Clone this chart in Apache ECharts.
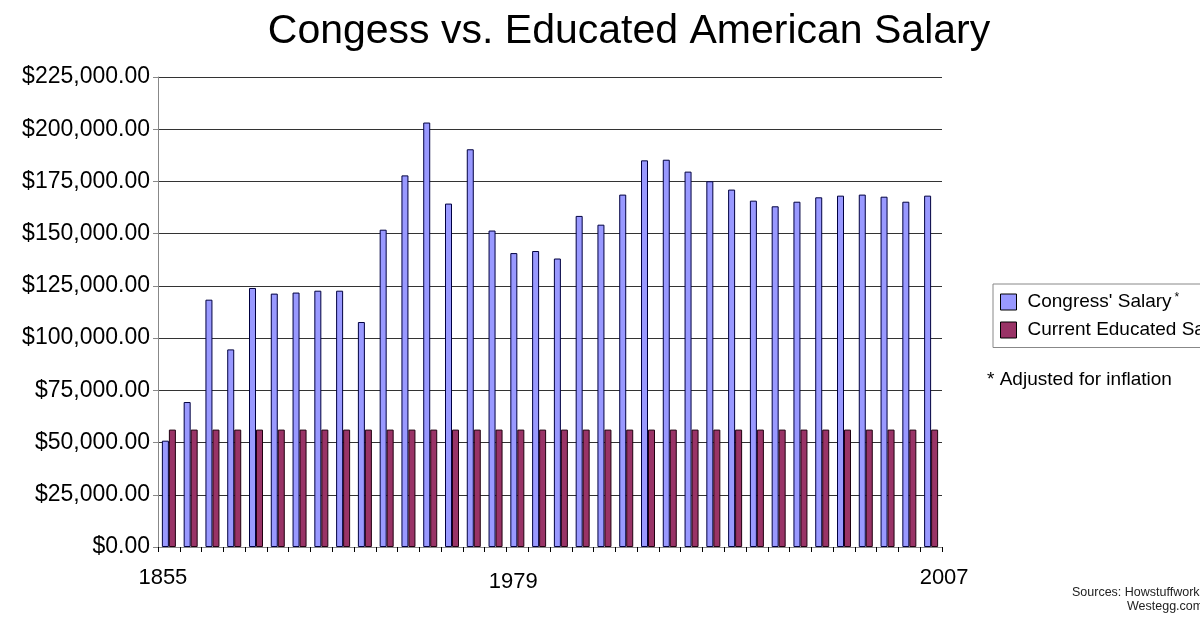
<!DOCTYPE html>
<html>
<head>
<meta charset="utf-8">
<script src="https://cdn.jsdelivr.net/npm/echarts@6/dist/echarts.min.js"></script>
<style>
html,body{margin:0;padding:0;background:#fff;}
#c{width:1200px;height:630px;}
</style>
</head>
<body>
<div id="c"></div>
<script>
// categories: 36 periods; only three are labelled in the reference
const categories = ['1855','c1','c2','c3','c4','c5','c6','c7','c8','c9','c10','c11','c12','c13','c14','c15','1979','c17','c18','c19','c20','c21','c22','c23','c24','c25','c26','c27','c28','c29','c30','c31','c32','c33','c34','2007'];
const shownLabels = ['1855','1979','2007'];
const congressSalary = [50900,69400,118400,94600,124000,121300,121800,122700,122700,107700,151900,177900,203200,164400,190400,151500,140700,141700,138100,158500,154300,168700,185100,185400,179700,175100,171100,165800,163100,165300,167400,168200,168700,167700,165300,168200];
const educatedSalary = categories.map(() => 56200);
const seriesNames = ["Congress' Salary", 'Current Educated Salary'];

const F = 'Liberation Sans, Arial';
const chart = echarts.init(document.getElementById('c'));
chart.setOption({
  animation: false,
  backgroundColor: '#fff',
  title: {
    text: 'Congess vs. Educated American Salary',
    left: 624, top: 6, textAlign: 'center',
    textStyle: {fontFamily: F, fontSize: 41, fontWeight: 'normal', color: '#000'}
  },
  grid: {left: 158, right: 258, top: 77, bottom: 83, containLabel: false},
  legend: {
    orient: 'vertical', left: 993, top: 284,
    data: seriesNames,
    icon: 'rect', itemWidth: 16, itemHeight: 16, itemGap: 9,
    borderColor: '#888', borderWidth: 1, padding: [8, 30, 8, 7],
    itemStyle: {borderColor: '#000', borderWidth: 1},
    formatter: function (n) { return n === seriesNames[0] ? '{a|' + n + '}{s|*}' : '{a|' + n + '}'; },
    textStyle: {
      fontFamily: F, fontSize: 19, color: '#000',
      rich: {a: {fontFamily: F, fontSize: 19, color: '#000', padding: [0, 0, 0, 6]},
             s: {fontFamily: F, fontSize: 12, color: '#000', verticalAlign: 'top', padding: [0, 0, 8, 3]}}
    }
  },
  xAxis: {
    type: 'category', data: categories,
    axisLine: {lineStyle: {color: '#888', width: 1}},
    axisTick: {show: true, interval: 0, length: 5, alignWithLabel: false, lineStyle: {color: '#000'}},
    axisLabel: {
      interval: 0, margin: 20,
      fontFamily: F, fontSize: 22, color: '#000',
      formatter: function (v) {
        if (shownLabels.indexOf(v) < 0) return '';
        if (v === '2007') return '{r|' + v + '}';
        if (v === '1855') return '{l|' + v + '}';
        return '{m|' + v + '}';
      },
      rich: {
        l: {fontFamily: F, fontSize: 22, color: '#000', padding: [0, 12, 0, 0]},
        m: {fontFamily: F, fontSize: 22, color: '#000', padding: [4, 8, 0, 0]},
        r: {fontFamily: F, fontSize: 22, color: '#000', padding: [0, 0, 0, 26]}
      }
    }
  },
  yAxis: {
    type: 'value', min: 0, max: 225000, interval: 25000,
    axisLine: {show: true, lineStyle: {color: '#888'}},
    axisTick: {show: true, length: 5, lineStyle: {color: '#888'}},
    splitLine: {lineStyle: {color: '#333', width: 1}},
    axisLabel: {
      margin: 8, fontFamily: F, fontSize: 23, color: '#000',
      formatter: function (v) { return '$' + v.toLocaleString('en-US', {minimumFractionDigits: 2, maximumFractionDigits: 2}); }
    }
  },
  series: [
    {name: seriesNames[0], type: 'bar', data: congressSalary, barWidth: 7, barGap: '0%',
     itemStyle: {color: '#9999FF', borderColor: '#000040', borderWidth: 1}},
    {name: seriesNames[1], type: 'bar', data: educatedSalary, barWidth: 7, barGap: '0%',
     itemStyle: {color: '#993366', borderColor: '#200010', borderWidth: 1}}
  ],
  graphic: [
    {type: 'text', left: 987, top: 370, style: {text: '* Adjusted for inflation', font: '19px "Liberation Sans", Arial', fill: '#000'}},
    {type: 'text', left: 1072, top: 586, style: {text: 'Sources: Howstuffworks.com', font: '12.5px "Liberation Sans", Arial', fill: '#222'}},
    {type: 'text', left: 1127, top: 600, style: {text: 'Westegg.com', font: '12.5px "Liberation Sans", Arial', fill: '#222'}}
  ]
});
</script>
</body>
</html>
